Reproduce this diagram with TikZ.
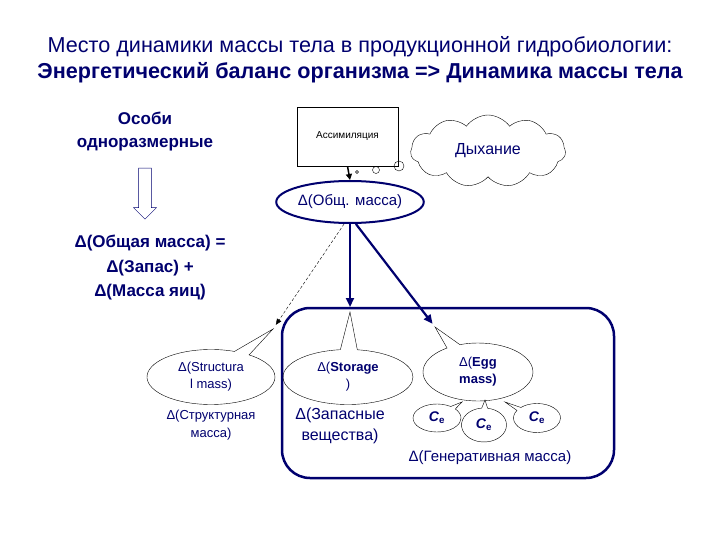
\documentclass[tikz,border=0pt]{standalone}
\usepackage{fontspec}
\setmainfont{Liberation Sans}
\usetikzlibrary{positioning,arrows.meta,shapes.geometric,shapes.callouts,shapes.symbols,shapes.arrows}
\definecolor{ink}{RGB}{0,0,110}
\newcommand{\fsz}[2]{\fontsize{#1}{#2}\selectfont}
\newcommand{\Ce}{{\bfseries\itshape C}\textsubscript{\bfseries e}}
\begin{document}
\begin{tikzpicture}[x=1pt,y=-1pt,every node/.style={text=ink,align=center},
  bubble/.style={ellipse callout,draw=black,thin,inner sep=0pt,font=\fsz{13}{17}},
  puff/.style={circle,draw=black,thin,inner sep=0pt},
  massarrow/.style={draw=ink,line width=2.2pt,-{Triangle[length=9pt,width=8pt]}}]
\useasboundingbox (0,0) rectangle (720,540);
\node[font=\fsz{21.6}{26}] (title) at (360,60) {Место динамики массы тела в продукционной гидробиологии:\\\bfseries Энергетический баланс организма => Динамика массы тела};
\node[font=\bfseries\fsz{17}{23}] (same) at (145,132) {Особи\\одноразмерные};
\node[single arrow,draw=ink,thin,rotate=-90,minimum height=51,minimum width=23,inner sep=6pt,single arrow head extend=5pt] (down) at (145,190.5) {};
\node[font=\bfseries\fsz{17}{24.5}] (balance) at (150,268) {Δ(Общая масса) =\\Δ(Запас) +\\Δ(Масса яиц)};
% upper part
\node[draw=black,thin,minimum width=101,minimum height=59,text=black,font=\fsz{10}{12}] (assim) at (347.5,136.5) {Ассимиляция};
\node[cloud,cloud puffs=11,cloud puff arc=110,aspect=2.3,draw=black,thin,minimum width=155,minimum height=72,font=\fsz{16}{19}] (resp) at (488,151) {Дыхание};
\node[puff,minimum size=3] (p1) at (357,172) {};
\node[puff,minimum size=7] (p2) at (376,170) {};
\node[puff,minimum size=10] (p3) at (399,166) {};
\node[ellipse,draw=ink,line width=2pt,minimum width=130,minimum height=42,inner sep=0pt,font=\fsz{15}{18}] (total) at (350,202) {Δ(Общ. масса)};
\draw[black,line width=1.5pt,-{Triangle[length=6pt,width=6pt]}] (assim.south) -- (total.north);
% lower part
\node[draw=ink,line width=2.5pt,rounded corners=28pt,minimum width=332,minimum height=170] (gen) at (448,393) {};
\coordinate (tipS) at (273,329);
\coordinate (tipR) at (350,312);
\coordinate (tipE) at (435,327);
\node[bubble,minimum width=128,minimum height=55,callout absolute pointer={(tipS)}] (struct) at (211,377) {Δ(Structura\\l mass)};
\node[bubble,minimum width=130,minimum height=55,callout absolute pointer={(tipR)}] (store) at (348,377) {Δ(\textbf{Storage}\\)};
\node[bubble,minimum width=110,minimum height=58,callout absolute pointer={(tipE)}] (egg) at (478,372) {Δ(\textbf{Egg}\\\textbf{mass)}};
\node[bubble,minimum width=48,minimum height=28,font=\fsz{14}{16},callout absolute pointer={(462,402)}] (ce1) at (437,418) {\Ce};
\node[bubble,minimum width=45,minimum height=34,font=\fsz{14}{16},callout absolute pointer={(485,400)}] (ce2) at (484,425) {\Ce};
\node[bubble,minimum width=47,minimum height=29,font=\fsz{14}{16},callout absolute pointer={(505,402)}] (ce3) at (537,418) {\Ce};
\node[font=\fsz{13}{18}] (structru) at (211,425) {Δ(Структурная\\масса)};
\node[font=\fsz{16}{21}] (storeru) at (340,426) {Δ(Запасные\\вещества)};
\node[font=\fsz{15}{18}] (genru) at (490,458) {Δ(Генеративная масса)};
\draw[black,densely dashed,thin,-{Triangle[length=6pt,width=5pt]},shorten >=5pt] (total.255) -- (tipS);
\draw[massarrow,shorten >=5pt] (total.south) -- (tipR);
\draw[massarrow,shorten >=4pt] (total.285) -- (tipE);
\end{tikzpicture}
\end{document}
